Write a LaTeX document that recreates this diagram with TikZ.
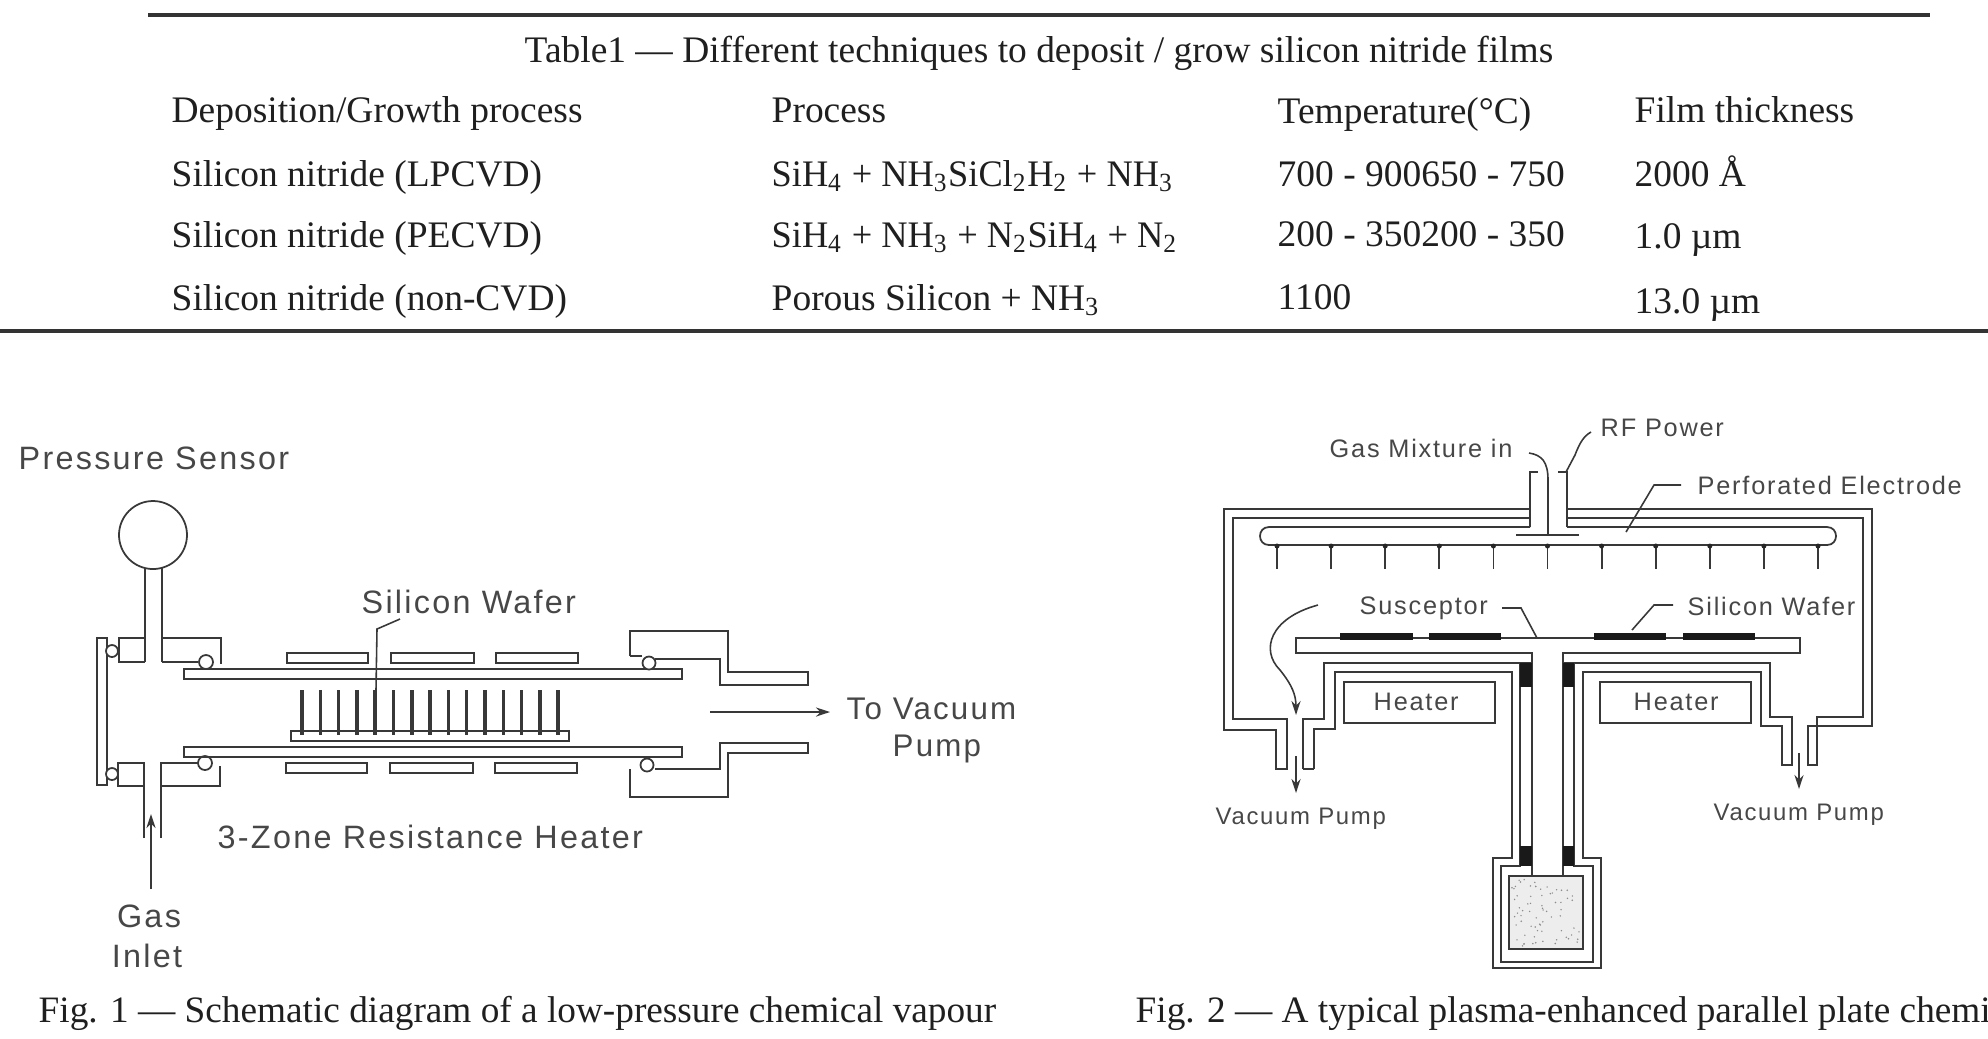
\documentclass[tikz,border=0pt]{standalone}
\usepackage{fontspec}
\setmainfont{Liberation Serif}
\newfontfamily\labelfont[LetterSpace=7]{Liberation Sans}
\usetikzlibrary{arrows.meta}
\tikzset{
  rowtext/.style={anchor=base west,inner sep=0pt,font=\fontsize{10.65pt}{12pt}\selectfont,text=black!88},
  captext/.style={rowtext,font=\fontsize{10.6pt}{12pt}\selectfont},
  figlabel/.style={inner sep=0pt,font=\labelfont\fontsize{9.2pt}{10pt}\selectfont,text=black!72},
  midlabel/.style={figlabel,font=\labelfont\fontsize{8.9pt}{10pt}\selectfont},
  smalllabel/.style={figlabel,font=\labelfont\fontsize{7.2pt}{9pt}\selectfont},
  pumplabel/.style={figlabel,font=\labelfont\fontsize{6.8pt}{9pt}\selectfont},
  wall/.style={draw=black!78,line width=0.5pt},
  leader/.style={draw=black!78,line width=0.45pt},
  flow/.style={draw=black!78,line width=0.45pt,-{Stealth[length=4pt,width=2.6pt]}},
  block/.style={fill=black!90,draw=none}
}
\begin{document}
\begin{tikzpicture}[x=0.01cm,y=-0.01cm]
  \useasboundingbox (0,0) rectangle (1988,1038);
  % table
  \draw[black!80,line width=1pt] (148,15) -- (1930,15);
  \draw[black!80,line width=1pt] (0,331) -- (1988,331);
  \node[rowtext] (title) at (524,62) {Table1 --- Different techniques to deposit / grow silicon nitride films};
  \node[rowtext] (h1) at (171,122) {Deposition/Growth process};
  \node[rowtext] (h2) at (771,122) {Process};
  \node[rowtext] (h3) at (1277,123) {Temperature(°C)};
  \node[rowtext] (h4) at (1634,122) {Film thickness};
  \node[rowtext] (a1) at (171,186) {Silicon nitride (LPCVD)};
  \node[rowtext] (a2) at (771,186) {\scalebox{0.97}[1]{SiH\textsubscript{4} + NH\textsubscript{3}SiCl\textsubscript{2}H\textsubscript{2} + NH\textsubscript{3}}};
  \node[rowtext] (a3) at (1277,186) {700 - 900650 - 750};
  \node[rowtext] (a4) at (1634,186) {2000 Å};
  \node[rowtext] (b1) at (171,247) {Silicon nitride (PECVD)};
  \node[rowtext] (b2) at (771,247) {\scalebox{0.97}[1]{SiH\textsubscript{4} + NH\textsubscript{3} + N\textsubscript{2}SiH\textsubscript{4} + N\textsubscript{2}}};
  \node[rowtext] (b3) at (1277,246) {200 - 350200 - 350};
  \node[rowtext] (b4) at (1634,248) {1.0 µm};
  \node[rowtext] (c1) at (171,310) {Silicon nitride (non-CVD)};
  \node[rowtext] (c2) at (771,310) {Porous Silicon + NH\textsubscript{3}};
  \node[rowtext] (c3) at (1277,309) {1100};
  \node[rowtext] (c4) at (1634,313) {13.0 µm};
  % fig 1
  \draw[wall] (153,535) circle (34);
  \draw[wall] (145,568) -- (145,662);
  \draw[wall] (162,568) -- (162,662);
  \draw[wall] (97,638) rectangle (107,785);
  \draw[wall] (145,638) -- (119,638) -- (119,662) -- (145,662);
  \draw[wall] (162,662) -- (198,662);
  \draw[wall] (162,638) -- (221,638) -- (221,664);
  \draw[wall] (144,838) -- (144,763) -- (118,763) -- (118,786) -- (144,786);
  \draw[wall] (161,838) -- (161,763) -- (198,763);
  \draw[wall] (161,786) -- (220,786) -- (220,766);
  \draw[wall,fill=white] (112,651) circle (6);
  \draw[wall,fill=white] (206,662) circle (7);
  \draw[wall,fill=white] (112,774) circle (6);
  \draw[wall,fill=white] (205,763) circle (7);
  \draw[wall] (184,669) rectangle (682,679);
  \draw[wall] (184,747) rectangle (682,757);
  \foreach \xa/\xb in {287/368,391/474,496/578} {
    \draw[wall] (\xa,653) rectangle (\xb,663);
    \draw[wall] (\xa-1,763) rectangle (\xb-1,773);
  }
  \draw[wall] (291,731) rectangle (569,741);
  \foreach \i in {0,...,14} {
    \draw[wall,line width=1pt] ({302+\i*18.3},690) -- ({302+\i*18.3},735);
  }
  \draw[wall] (630,656) -- (630,631) -- (728,631) -- (728,672) -- (808,672) -- (808,685) -- (720,685) -- (720,659) -- (655,659);
  \draw[wall] (630,656) -- (642,656);
  \draw[wall] (630,769) -- (630,797) -- (728,797) -- (728,753) -- (808,753) -- (808,743) -- (720,743) -- (720,769) -- (655,769);
  \draw[wall,fill=white] (649,663) circle (6.5);
  \draw[wall,fill=white] (647,765) circle (6.5);
  % labels fig 1
  \node[figlabel,anchor=west] (sensor) at (18,458) {Pressure Sensor};
  \node[figlabel,anchor=west] (wafer1) at (361,602) {Silicon Wafer};
  \node[figlabel,anchor=west] (zones) at (217,837) {3-Zone Resistance Heater};
  \node[midlabel,anchor=west] (vac) at (846,709) {To Vacuum};
  \node[midlabel,anchor=west] (pump) at (892,749) {Pump};
  \node[figlabel] (gas) at (149,916) {Gas};
  \node[figlabel] (inlet) at (147,956) {Inlet};
  \coordinate (w1) at (376,690);
  \coordinate (w2) at (377,629);
  \coordinate (w3) at (400,619);
  \draw[leader] (w1) -- (w2) -- (w3);
  \coordinate (vout) at (710,712);
  \coordinate (vend) at (830,712);
  \draw[flow] (vout) -- (vend);
  \coordinate (gin) at (151,814);
  \coordinate (gstart) at (151,889);
  \draw[flow] (gstart) -- (gin);
  % fig 2
  \draw[wall] (1530,527) -- (1530,472) -- (1538,472);
  \draw[wall] (1530,509) -- (1224,509) -- (1224,730) -- (1276,730) -- (1276,769) -- (1287,769) -- (1287,719) -- (1233,719) -- (1233,518) -- (1530,518);
  \draw[wall] (1567,527) -- (1567,472) -- (1558,472);
  \draw[wall] (1567,509) -- (1872,509) -- (1872,726) -- (1808,726) -- (1808,765) -- (1817,765) -- (1817,717) -- (1863,717) -- (1863,518) -- (1567,518);
  \draw[wall] (1530,527) -- (1269,527) .. controls (1257,527) and (1257,545) .. (1269,545) -- (1827,545) .. controls (1839,545) and (1839,527) .. (1827,527) -- (1567,527);
  \draw[wall,line width=0.7pt] (1516,535) -- (1579,535);
  \foreach \i in {0,...,10} {
    \draw[wall] ({1277+\i*54.1},545) -- ({1277+\i*54.1},569);
    \fill[black!85] ({1277+\i*54.1},546) circle (2.5);
  }
  \draw[wall] (1532,876) -- (1532,653) -- (1296,653) -- (1296,638) -- (1800,638) -- (1800,653) -- (1563,653) -- (1563,876);
  \foreach \xa/\xb in {1340/1413,1429/1501,1594/1666,1683/1755} {
    \fill[block] (\xa,633) rectangle (\xb,640);
  }
  \draw[wall] (1303,769) -- (1303,719) -- (1324,719) -- (1324,663) -- (1532,663);
  \draw[wall] (1314,769) -- (1314,729) -- (1335,729) -- (1335,672) -- (1512,672) -- (1512,858) -- (1493,858) -- (1493,968) -- (1601,968) -- (1601,858) -- (1583,858) -- (1583,672) -- (1761,672) -- (1761,726) -- (1782,726) -- (1782,765) -- (1792,765) -- (1792,717) -- (1770,717) -- (1770,663) -- (1563,663);
  \draw[wall] (1303,769) -- (1314,769);
  \draw[wall] (1520,663) -- (1520,866) -- (1501,866) -- (1501,962) -- (1593,962) -- (1593,866) -- (1574,866) -- (1574,663);
  \foreach \xa/\xb in {1520/1532,1563/1574} {
    \fill[block] (\xa,663) rectangle (\xb,687);
    \fill[block] (\xa,846) rectangle (\xb,866);
  }
  \draw[wall,fill=black!7] (1509,876) rectangle (1583,949);
  \pgfmathsetseed{7}
  \foreach \i in {1,...,70} {
    \fill[black!45] ({1512+68*rnd},{879+67*rnd}) circle (0.8);
  }
  % labels fig 2
  \node[smalllabel,anchor=west] (rf) at (1600,428) {RF Power};
  \node[smalllabel,anchor=west] (mix) at (1329,448) {Gas Mixture in};
  \node[smalllabel,anchor=west] (elec) at (1697,485) {Perforated Electrode};
  \node[smalllabel,anchor=west] (susc) at (1359,608) {Susceptor};
  \node[smalllabel,anchor=west] (wafer2) at (1687,606) {Silicon Wafer};
  \node[smalllabel,anchor=west] (heat1) at (1373,702) {Heater};
  \node[smalllabel,anchor=west] (heat2) at (1633,702) {Heater};
  \node[pumplabel,anchor=west] (vp1) at (1215,819) {Vacuum Pump};
  \node[pumplabel,anchor=west] (vp2) at (1713,815) {Vacuum Pump};
  \draw[wall] (1344,682) rectangle (1495,723);
  \draw[wall] (1600,682) rectangle (1751,723);
  \coordinate (t1) at (1566,472);
  \draw[leader] (t1) -- (1575,455) .. controls (1580,442) and (1584,436) .. (1591,432);
  \draw[leader] (1529,453) .. controls (1542,455) and (1548,462) .. (1548,480) -- (1548,535);
  \draw[leader] (1681,485) -- (1654,485) -- (1626,532);
  \draw[leader] (1502,608) -- (1521,608) -- (1537,638);
  \draw[leader] (1673,605) -- (1654,605) -- (1632,630);
  \draw[flow] (1318,605) .. controls (1270,618) and (1260,650) .. (1280,670) .. controls (1292,685) and (1296,695) .. (1296,715);
  \coordinate (p1) at (1296,756);
  \coordinate (p1end) at (1296,793);
  \coordinate (p2) at (1799,753);
  \coordinate (p2end) at (1799,789);
  \draw[flow] (p1) -- (p1end);
  \draw[flow] (p2) -- (p2end);
  % captions
  \node[captext] (fig1) at (38,1022) {Fig. 1 --- Schematic diagram of a low-pressure chemical vapour};
  \node[captext] (fig2) at (1135,1022) {Fig. 2 --- A typical plasma-enhanced parallel plate chemi};
\end{tikzpicture}
\end{document}
